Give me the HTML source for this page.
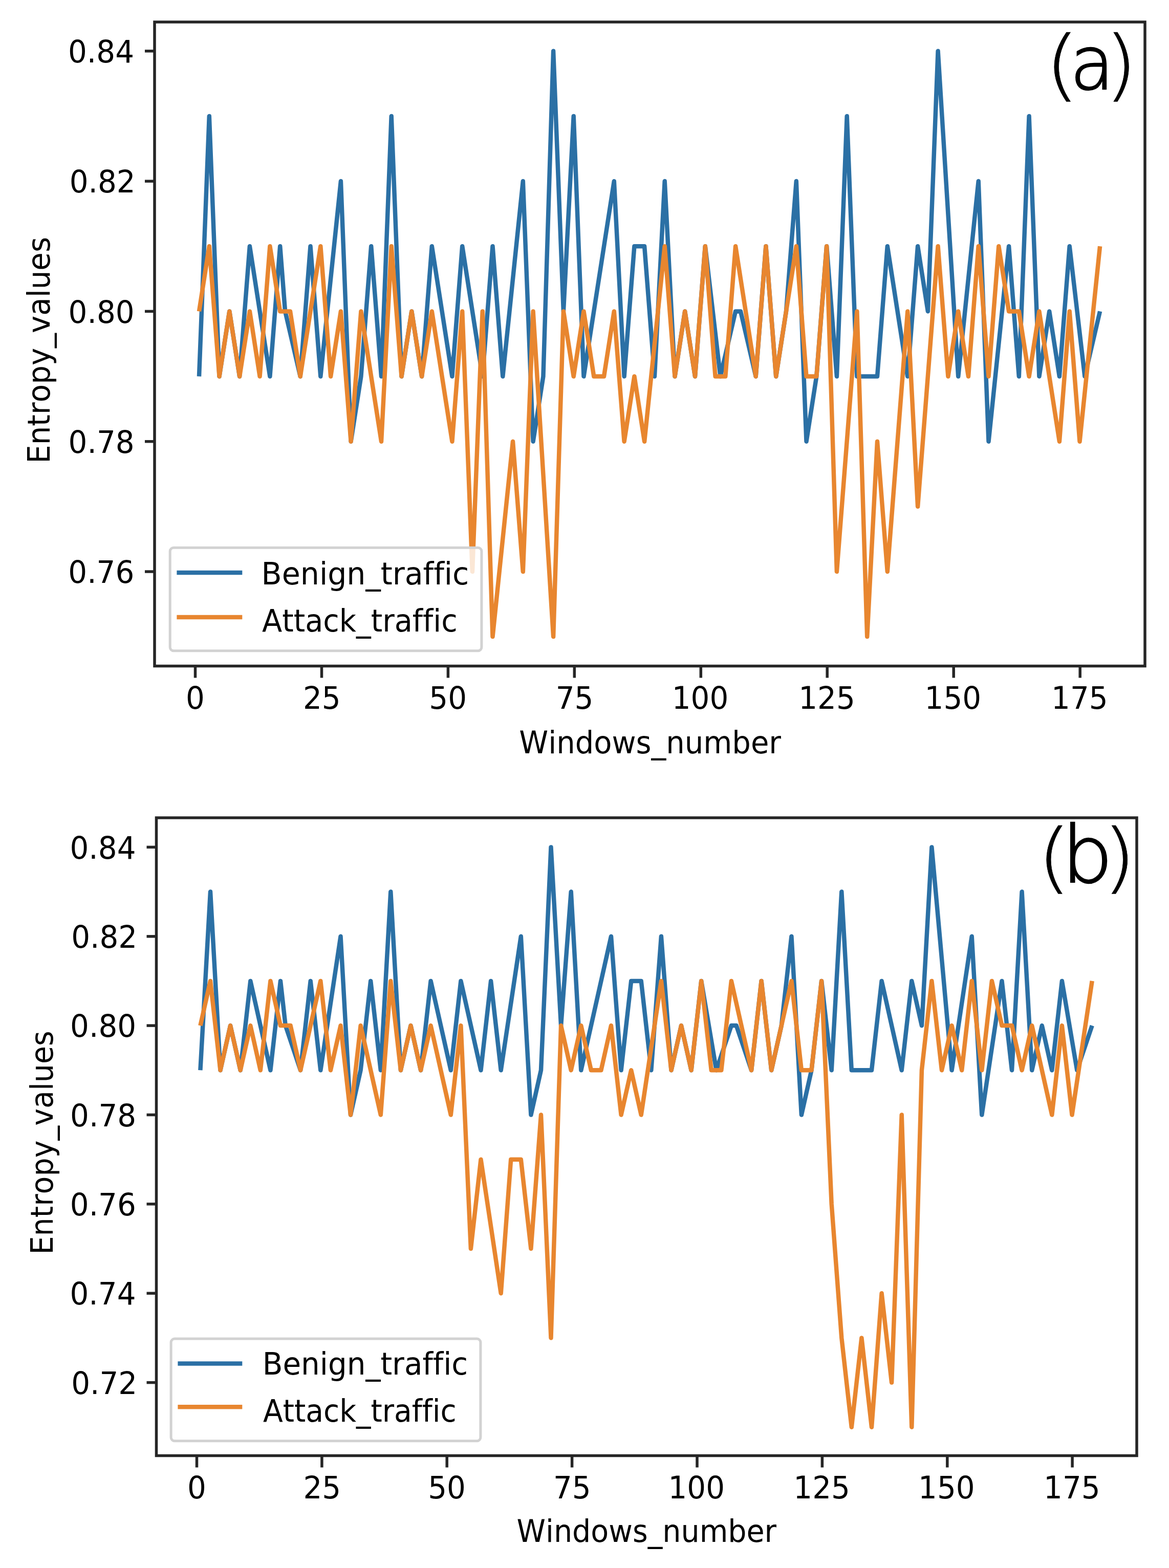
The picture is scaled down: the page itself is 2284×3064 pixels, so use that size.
<!DOCTYPE html>
<html><head><meta charset="utf-8"><title>Entropy values: benign vs attack traffic</title>
<style>
html,body{margin:0;padding:0;background:#fff;}
body{width:2284px;height:3064px;overflow:hidden;}
svg{display:block;}
text{font-family:"DejaVu Sans","Liberation Sans",sans-serif;fill:#000;font-variant-ligatures:none;font-feature-settings:"liga" 0,"clig" 0;font-kerning:none;}
text.pl{font-weight:200;stroke:#000;stroke-width:2.5px;}
text.pp{font-weight:200;stroke:#000;stroke-width:0.6px;}
</style></head>
<body>
<svg width="2284" height="3064" viewBox="0 0 2284 3064">
<rect x="0" y="0" width="2284" height="3064" fill="#fff"/>
<g id="panel-a">
<clipPath id="clip-a"><rect x="302" y="43" width="1935" height="1258.5"/></clipPath>
<g clip-path="url(#clip-a)" fill="none" stroke-width="8.5" stroke-linejoin="round" stroke-linecap="butt">
<polyline stroke="#2b70a5" points="389,735.5 408.8,227 428.5,735.5 448.3,608.4 468.1,735.5 487.9,481.2 507.6,608.4 527.4,735.5 547.2,481.2 557.1,608.4 586.7,735.5 606.5,481.2 626.3,735.5 665.9,354.1 685.6,862.7 705.4,735.5 725.2,481.2 745,735.5 764.7,227 784.5,735.5 804.3,608.4 824.1,735.5 843.8,481.2 883.4,735.5 903.2,481.2 942.7,735.5 962.5,481.2 982.3,735.5 1021.8,354.1 1041.6,862.7 1061.4,735.5 1081.1,99.8 1100.9,608.4 1120.7,227 1140.5,735.5 1199.8,354.1 1219.6,735.5 1239.4,481.2 1259.1,481.2 1278.9,735.5 1298.7,354.1 1318.5,735.5 1338.2,608.4 1358,735.5 1377.8,481.2 1407.5,735.5 1437.1,608.4 1447,608.4 1476.7,735.5 1496.4,481.2 1516.2,735.5 1536,608.4 1555.8,354.1 1575.5,862.7 1595.3,735.5 1615.1,481.2 1634.9,735.5 1654.7,227 1674.4,735.5 1714,735.5 1733.8,481.2 1773.3,735.5 1793.1,481.2 1812.9,608.4 1832.6,99.8 1872.2,735.5 1911.7,354.1 1931.5,862.7 1971.1,481.2 1990.8,735.5 2010.6,227 2030.4,735.5 2050.2,608.4 2069.9,735.5 2089.7,481.2 2119.4,735.5 2149.1,608.4"/>
<polyline stroke="#e8862f" points="389,608.4 408.8,481.2 428.5,735.5 448.3,608.4 468.1,735.5 487.9,608.4 507.6,735.5 527.4,481.2 547.2,608.4 567,608.4 586.7,735.5 626.3,481.2 646.1,735.5 665.9,608.4 685.6,862.7 705.4,608.4 745,862.7 764.7,481.2 784.5,735.5 804.3,608.4 824.1,735.5 843.8,608.4 883.4,862.7 903.2,608.4 922.9,1117 942.7,608.4 962.5,1244.1 1002,862.7 1021.8,1117 1041.6,608.4 1081.1,1244.1 1100.9,608.4 1120.7,735.5 1140.5,608.4 1160.3,735.5 1180,735.5 1199.8,608.4 1219.6,862.7 1239.4,735.5 1259.1,862.7 1298.7,481.2 1318.5,735.5 1338.2,608.4 1358,735.5 1377.8,481.2 1397.6,735.5 1417.3,735.5 1437.1,481.2 1476.7,735.5 1496.4,481.2 1516.2,735.5 1555.8,481.2 1575.5,735.5 1595.3,735.5 1615.1,481.2 1634.9,1117 1674.4,608.4 1694.2,1244.1 1714,862.7 1733.8,1117 1773.3,608.4 1793.1,989.8 1832.6,481.2 1852.4,735.5 1872.2,608.4 1892,735.5 1911.7,481.2 1931.5,735.5 1951.3,481.2 1971.1,608.4 1990.8,608.4 2010.6,735.5 2030.4,608.4 2069.9,862.7 2089.7,608.4 2109.5,862.7 2149.1,481.2"/>
</g>
<rect x="332.2" y="1070.2" width="608.7" height="201.5" rx="7" ry="7" fill="#fff" fill-opacity="0.8" stroke="#d2d2d2" stroke-width="5"/>
<line x1="345.4" y1="1119" x2="473.3" y2="1119" stroke="#2b70a5" stroke-width="8.5"/>
<line x1="345.4" y1="1206" x2="473.3" y2="1206" stroke="#e8862f" stroke-width="8.5"/>
<text transform="translate(510.6,1142.4) scale(0.960,1)" font-size="61">Benign_traffic</text>
<text transform="translate(512,1234.1) scale(0.940,1)" font-size="61">Attack_traffic</text>
<rect x="302" y="43" width="1935" height="1258.5" fill="none" stroke="#262626" stroke-width="5.5"/>
<line x1="283" y1="99.8" x2="302" y2="99.8" stroke="#262626" stroke-width="5.5"/>
<text transform="translate(133,122) scale(0.950,1)" font-size="61">0.84</text>
<line x1="283" y1="354.1" x2="302" y2="354.1" stroke="#262626" stroke-width="5.5"/>
<text transform="translate(135.7,376.3) scale(0.950,1)" font-size="61">0.82</text>
<line x1="283" y1="608.4" x2="302" y2="608.4" stroke="#262626" stroke-width="5.5"/>
<text transform="translate(133.6,630.6) scale(0.950,1)" font-size="61">0.80</text>
<line x1="283" y1="862.7" x2="302" y2="862.7" stroke="#262626" stroke-width="5.5"/>
<text transform="translate(133.6,884.9) scale(0.950,1)" font-size="61">0.78</text>
<line x1="283" y1="1117" x2="302" y2="1117" stroke="#262626" stroke-width="5.5"/>
<text transform="translate(133.3,1139.2) scale(0.950,1)" font-size="61">0.76</text>
<line x1="381.5" y1="1301.5" x2="381.5" y2="1324.5" stroke="#262626" stroke-width="5.5"/>
<text transform="translate(363.1,1384.8) scale(0.950,1)" font-size="61">0</text>
<line x1="628.5" y1="1301.5" x2="628.5" y2="1324.5" stroke="#262626" stroke-width="5.5"/>
<text transform="translate(591.9,1384.8) scale(0.950,1)" font-size="61">25</text>
<line x1="875.4" y1="1301.5" x2="875.4" y2="1324.5" stroke="#262626" stroke-width="5.5"/>
<text transform="translate(838.3,1384.8) scale(0.950,1)" font-size="61">50</text>
<line x1="1122.3" y1="1301.5" x2="1122.3" y2="1324.5" stroke="#262626" stroke-width="5.5"/>
<text transform="translate(1085.7,1384.8) scale(0.950,1)" font-size="61">75</text>
<line x1="1369.3" y1="1301.5" x2="1369.3" y2="1324.5" stroke="#262626" stroke-width="5.5"/>
<text transform="translate(1312.7,1384.8) scale(0.950,1)" font-size="61">100</text>
<line x1="1616.2" y1="1301.5" x2="1616.2" y2="1324.5" stroke="#262626" stroke-width="5.5"/>
<text transform="translate(1560.2,1384.8) scale(0.950,1)" font-size="61">125</text>
<line x1="1863.2" y1="1301.5" x2="1863.2" y2="1324.5" stroke="#262626" stroke-width="5.5"/>
<text transform="translate(1806.6,1384.8) scale(0.950,1)" font-size="61">150</text>
<line x1="2110.2" y1="1301.5" x2="2110.2" y2="1324.5" stroke="#262626" stroke-width="5.5"/>
<text transform="translate(2054.1,1384.8) scale(0.950,1)" font-size="61">175</text>
<text transform="translate(1014.3,1471.5) scale(0.944,1)" font-size="61">Windows_number</text>
<text transform="translate(97,905.8) rotate(-90) scale(0.948,1)" font-size="61">Entropy_values</text>
<text class="pp" transform="translate(2040.5,178.4) scale(1.177,1)" font-size="150.6">(</text>
<text class="pl" transform="translate(2090.8,174.3) scale(0.967,1)" font-size="145.2">a</text>
<text class="pp" transform="translate(2157.8,178.4) scale(1.101,1)" font-size="150.6">)</text>
</g>
<g id="panel-b">
<clipPath id="clip-b"><rect x="305.5" y="1598" width="1915.5" height="1246.5"/></clipPath>
<g clip-path="url(#clip-b)" fill="none" stroke-width="8.5" stroke-linejoin="round" stroke-linecap="butt">
<polyline stroke="#2b70a5" points="391.4,2091.3 411,1742.6 430.5,2091.3 450.1,2004.1 469.7,2091.3 489.3,1916.9 508.8,2004.1 528.4,2091.3 548,1916.9 557.8,2004.1 587.1,2091.3 606.7,1916.9 626.3,2091.3 665.5,1829.8 685,2178.5 704.6,2091.3 724.2,1916.9 743.8,2091.3 763.3,1742.6 782.9,2091.3 802.5,2004.1 822.1,2091.3 841.6,1916.9 880.8,2091.3 900.4,1916.9 939.5,2091.3 959.1,1916.9 978.7,2091.3 1017.8,1829.8 1037.4,2178.5 1057,2091.3 1076.5,1655.4 1096.1,2004.1 1115.7,1742.6 1135.3,2091.3 1194,1829.8 1213.6,2091.3 1233.2,1916.9 1252.7,1916.9 1272.3,2091.3 1291.9,1829.8 1311.5,2091.3 1331,2004.1 1350.6,2091.3 1370.2,1916.9 1399.6,2091.3 1428.9,2004.1 1438.7,2004.1 1468.1,2091.3 1487.6,1916.9 1507.2,2091.3 1526.8,2004.1 1546.4,1829.8 1565.9,2178.5 1585.5,2091.3 1605.1,1916.9 1624.7,2091.3 1644.3,1742.6 1663.8,2091.3 1703,2091.3 1722.6,1916.9 1761.7,2091.3 1781.3,1916.9 1800.9,2004.1 1820.4,1655.4 1859.6,2091.3 1898.7,1829.8 1918.3,2178.5 1957.5,1916.9 1977,2091.3 1996.6,1742.6 2016.2,2091.3 2035.8,2004.1 2055.3,2091.3 2074.9,1916.9 2104.3,2091.3 2133.7,2004.1"/>
<polyline stroke="#e8862f" points="391.4,2004.1 411,1916.9 430.5,2091.3 450.1,2004.1 469.7,2091.3 489.3,2004.1 508.8,2091.3 528.4,1916.9 548,2004.1 567.6,2004.1 587.1,2091.3 626.3,1916.9 645.9,2091.3 665.5,2004.1 685,2178.5 704.6,2004.1 743.8,2178.5 763.3,1916.9 782.9,2091.3 802.5,2004.1 822.1,2091.3 841.6,2004.1 880.8,2178.5 900.4,2004.1 919.9,2440 939.5,2265.7 978.7,2527.2 998.2,2265.7 1017.8,2265.7 1037.4,2440 1057,2178.5 1076.5,2614.4 1096.1,2004.1 1115.7,2091.3 1135.3,2004.1 1154.9,2091.3 1174.4,2091.3 1194,2004.1 1213.6,2178.5 1233.2,2091.3 1252.7,2178.5 1291.9,1916.9 1311.5,2091.3 1331,2004.1 1350.6,2091.3 1370.2,1916.9 1389.8,2091.3 1409.3,2091.3 1428.9,1916.9 1468.1,2091.3 1487.6,1916.9 1507.2,2091.3 1546.4,1916.9 1565.9,2091.3 1585.5,2091.3 1605.1,1916.9 1624.7,2352.8 1644.3,2614.4 1663.8,2788.7 1683.4,2614.4 1703,2788.7 1722.6,2527.2 1742.1,2701.6 1761.7,2178.5 1781.3,2788.7 1800.9,2091.3 1820.4,1916.9 1840,2091.3 1859.6,2004.1 1879.2,2091.3 1898.7,1916.9 1918.3,2091.3 1937.9,1916.9 1957.5,2004.1 1977,2004.1 1996.6,2091.3 2016.2,2004.1 2055.3,2178.5 2074.9,2004.1 2094.5,2178.5 2133.7,1916.9"/>
</g>
<rect x="334.1" y="2616.1" width="604.8" height="199.6" rx="7" ry="7" fill="#fff" fill-opacity="0.8" stroke="#d2d2d2" stroke-width="5"/>
<line x1="347.4" y1="2664.4" x2="473.3" y2="2664.4" stroke="#2b70a5" stroke-width="8.5"/>
<line x1="347.4" y1="2749.3" x2="473.3" y2="2749.3" stroke="#e8862f" stroke-width="8.5"/>
<text transform="translate(512.7,2686.4) scale(0.950,1)" font-size="61">Benign_traffic</text>
<text transform="translate(514,2778) scale(0.930,1)" font-size="61">Attack_traffic</text>
<rect x="305.5" y="1598" width="1915.5" height="1246.5" fill="none" stroke="#262626" stroke-width="5.5"/>
<line x1="286.5" y1="1655.4" x2="305.5" y2="1655.4" stroke="#262626" stroke-width="5.5"/>
<text transform="translate(136.5,1677.6) scale(0.950,1)" font-size="61">0.84</text>
<line x1="286.5" y1="1829.8" x2="305.5" y2="1829.8" stroke="#262626" stroke-width="5.5"/>
<text transform="translate(139.2,1852) scale(0.950,1)" font-size="61">0.82</text>
<line x1="286.5" y1="2004.1" x2="305.5" y2="2004.1" stroke="#262626" stroke-width="5.5"/>
<text transform="translate(137.1,2026.3) scale(0.950,1)" font-size="61">0.80</text>
<line x1="286.5" y1="2178.5" x2="305.5" y2="2178.5" stroke="#262626" stroke-width="5.5"/>
<text transform="translate(137.1,2200.7) scale(0.950,1)" font-size="61">0.78</text>
<line x1="286.5" y1="2352.8" x2="305.5" y2="2352.8" stroke="#262626" stroke-width="5.5"/>
<text transform="translate(136.8,2375) scale(0.950,1)" font-size="61">0.76</text>
<line x1="286.5" y1="2527.2" x2="305.5" y2="2527.2" stroke="#262626" stroke-width="5.5"/>
<text transform="translate(136.5,2549.4) scale(0.950,1)" font-size="61">0.74</text>
<line x1="286.5" y1="2701.6" x2="305.5" y2="2701.6" stroke="#262626" stroke-width="5.5"/>
<text transform="translate(139.2,2723.8) scale(0.950,1)" font-size="61">0.72</text>
<line x1="384.5" y1="2844.5" x2="384.5" y2="2867.5" stroke="#262626" stroke-width="5.5"/>
<text transform="translate(366.1,2927.8) scale(0.950,1)" font-size="61">0</text>
<line x1="628.9" y1="2844.5" x2="628.9" y2="2867.5" stroke="#262626" stroke-width="5.5"/>
<text transform="translate(592.4,2927.8) scale(0.950,1)" font-size="61">25</text>
<line x1="873.2" y1="2844.5" x2="873.2" y2="2867.5" stroke="#262626" stroke-width="5.5"/>
<text transform="translate(836.2,2927.8) scale(0.950,1)" font-size="61">50</text>
<line x1="1117.6" y1="2844.5" x2="1117.6" y2="2867.5" stroke="#262626" stroke-width="5.5"/>
<text transform="translate(1081,2927.8) scale(0.950,1)" font-size="61">75</text>
<line x1="1362" y1="2844.5" x2="1362" y2="2867.5" stroke="#262626" stroke-width="5.5"/>
<text transform="translate(1305.4,2927.8) scale(0.950,1)" font-size="61">100</text>
<line x1="1606.4" y1="2844.5" x2="1606.4" y2="2867.5" stroke="#262626" stroke-width="5.5"/>
<text transform="translate(1550.3,2927.8) scale(0.950,1)" font-size="61">125</text>
<line x1="1850.8" y1="2844.5" x2="1850.8" y2="2867.5" stroke="#262626" stroke-width="5.5"/>
<text transform="translate(1794.1,2927.8) scale(0.950,1)" font-size="61">150</text>
<line x1="2095.1" y1="2844.5" x2="2095.1" y2="2867.5" stroke="#262626" stroke-width="5.5"/>
<text transform="translate(2039.1,2927.8) scale(0.950,1)" font-size="61">175</text>
<text transform="translate(1009.6,3012.6) scale(0.936,1)" font-size="61">Windows_number</text>
<text transform="translate(102.6,2451.5) rotate(-90) scale(0.936,1)" font-size="61">Entropy_values</text>
<text class="pp" transform="translate(2026.1,1727.4) scale(1.139,1)" font-size="150.6">(</text>
<text class="pl" transform="translate(2074.3,1723.7) scale(1.033,1)" font-size="152.9">b</text>
<text class="pp" transform="translate(2153.6,1727.4) scale(1.139,1)" font-size="150.6">)</text>
</g>
</svg>
</body></html>
